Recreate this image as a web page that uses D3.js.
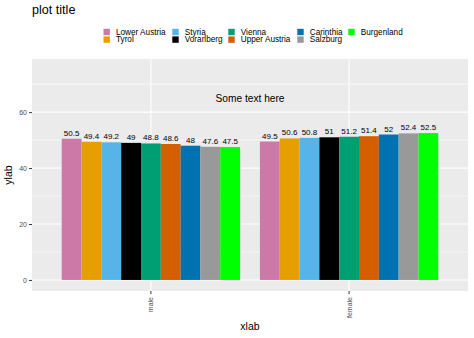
<!DOCTYPE html>
<html>
<head>
<meta charset="utf-8">
<script src="https://cdn.jsdelivr.net/npm/d3@7"></script>
<style>
  body { margin: 0; background: #fff; }
  text { font-family: "Liberation Sans", Arial, Helvetica, sans-serif; }
</style>
</head>
<body>
<div id="chart"></div>
<script>
'use strict';

const sexes   = ['male', 'female'];
const regions = ['Lower Austria', 'Tyrol', 'Styria', 'Vorarlberg', 'Vienna',
                 'Upper Austria', 'Carinthia', 'Salzburg', 'Burgenland'];
const colours = ['#CC79A7', '#E69F00', '#56B4E9', '#000000', '#009E73',
                 '#D55E00', '#0072B2', '#999999', '#00FF00'];
const maleValues   = [50.5, 49.4, 49.2, 49, 48.8, 48.6, 48, 47.6, 47.5];
const femaleValues = [49.5, 50.6, 50.8, 51, 51.2, 51.4, 52, 52.4, 52.5];
const yTicks      = [0, 20, 40, 60];
const yMinorTicks = [10, 30, 50, 70];
const annotation  = { text: 'Some text here', y: 65 };

const width  = 474;
const height = 338;
const panel  = { left: 32, right: 468, top: 59, bottom: 291 };

// one row per bar, long format like a tidy data frame
let rows = [];
sexes.forEach(function(s, i) {
    const vals = i === 0 ? maleValues : femaleValues;
    regions.forEach(function(r, j) {
        rows.push({ sex: s, region: r, value: vals[j] });
    });
});

const svg = d3.select('#chart').append('svg')
    .attr('width', width)
    .attr('height', height);

const x = d3.scaleBand()
    .domain(sexes)
    .range([panel.left, panel.right])
    .paddingInner(0.1)
    .paddingOuter(0.15);

const xInner = d3.scaleBand()
    .domain(regions)
    .range([0, x.bandwidth()]);

const y = d3.scaleLinear()
    .domain([-3.95, 79])
    .range([panel.bottom, panel.top]);

const fill = d3.scaleOrdinal().domain(regions).range(colours);

const centre = function(s) { return x(s) + x.bandwidth() / 2; };

// panel background and grid
svg.append('rect')
    .attr('x', panel.left)
    .attr('y', panel.top)
    .attr('width', panel.right - panel.left)
    .attr('height', panel.bottom - panel.top)
    .attr('fill', '#EBEBEB');

svg.selectAll('.minor')
    .data(yMinorTicks)
    .enter().append('line')
    .attr('x1', panel.left).attr('x2', panel.right)
    .attr('y1', d => y(d)).attr('y2', d => y(d))
    .attr('stroke', '#fff').attr('stroke-width', 0.6);

svg.selectAll('.major-y')
    .data(yTicks)
    .enter().append('line')
    .attr('x1', panel.left).attr('x2', panel.right)
    .attr('y1', d => y(d)).attr('y2', d => y(d))
    .attr('stroke', '#fff').attr('stroke-width', 1.1);

svg.selectAll('.major-x')
    .data(sexes)
    .enter().append('line')
    .attr('x1', d => centre(d)).attr('x2', d => centre(d))
    .attr('y1', panel.top).attr('y2', panel.bottom)
    .attr('stroke', '#fff').attr('stroke-width', 1.1);

// bars
const groups = svg.selectAll('.grp')
    .data(sexes)
    .enter().append('g')
    .attr('transform', d => 'translate(' + x(d) + ',0)');

groups.selectAll('rect')
    .data(s => rows.filter(r => r.sex === s))
    .enter().append('rect')
    .attr('x', d => xInner(d.region))
    .attr('y', d => y(d.value))
    .attr('width', xInner.bandwidth())
    .attr('height', d => y(0) - y(d.value))
    .attr('fill', d => fill(d.region));

groups.selectAll('.lbl')
    .data(s => rows.filter(r => r.sex === s))
    .enter().append('text')
    .attr('x', d => xInner(d.region) + xInner.bandwidth() / 2)
    .attr('y', d => y(d.value) - 3)
    .attr('text-anchor', 'middle')
    .attr('font-size', 8)
    .attr('fill', '#000')
    .text(d => d.value);

svg.append('text')
    .attr('x', (centre(sexes[0]) + centre(sexes[1])) / 2)
    .attr('y', y(annotation.y))
    .attr('dy', '0.35em')
    .attr('text-anchor', 'middle')
    .attr('font-size', 10.2)
    .attr('fill', '#000')
    .text(annotation.text);

// axes
const yAxis = svg.append('g')
    .attr('transform', 'translate(' + panel.left + ',0)')
    .call(d3.axisLeft(y).tickValues(yTicks).tickSize(3).tickPadding(2));
yAxis.select('.domain').remove();
yAxis.selectAll('line').attr('stroke', '#333');
yAxis.selectAll('text').attr('fill', '#4D4D4D').attr('font-size', 7)
    .style('font-family', '"Liberation Sans", Arial, sans-serif');

const xAxis = svg.append('g')
    .attr('transform', 'translate(0,' + panel.bottom + ')')
    .call(d3.axisBottom(x).tickSize(3).tickSizeOuter(0));
xAxis.select('.domain').remove();
xAxis.selectAll('line').attr('stroke', '#333');
xAxis.selectAll('text')
    .attr('fill', '#4D4D4D').attr('font-size', 7)
    .style('font-family', '"Liberation Sans", Arial, sans-serif')
    .attr('transform', 'rotate(-90)')
    .attr('text-anchor', 'end')
    .attr('x', -6).attr('y', 0).attr('dy', '0.35em');

// titles
svg.append('text')
    .attr('x', panel.left)
    .attr('y', 14)
    .attr('font-size', 12.6)
    .attr('fill', '#000')
    .text('plot title');

svg.append('text')
    .attr('x', (panel.left + panel.right) / 2)
    .attr('y', 330)
    .attr('text-anchor', 'middle')
    .attr('font-size', 10.5)
    .attr('fill', '#000')
    .text('xlab');

svg.append('text')
    .attr('transform', 'translate(12,' + (panel.top + panel.bottom) / 2 + ') rotate(-90)')
    .attr('text-anchor', 'middle')
    .attr('font-size', 10.5)
    .attr('fill', '#000')
    .text('ylab');

// legend, two rows filled column by column
const legendCols = [103.5, 172.3, 228.3, 297.3, 348.3];
const legendRows = [32, 39.6];
const keySize = 6.4;

const legend = svg.selectAll('.key')
    .data(regions)
    .enter().append('g')
    .attr('transform', (d, i) => 'translate(' + legendCols[Math.floor(i / 2)] + ',' + legendRows[i % 2] + ')');

legend.append('rect')
    .attr('x', 0)
    .attr('y', -keySize / 2)
    .attr('width', keySize)
    .attr('height', keySize)
    .attr('fill', d => fill(d));

legend.append('text')
    .attr('x', 12.5)
    .attr('y', 0)
    .attr('dy', '0.35em')
    .attr('font-size', 8.2)
    .attr('fill', '#000')
    .text(d => d);
</script>
</body>
</html>
